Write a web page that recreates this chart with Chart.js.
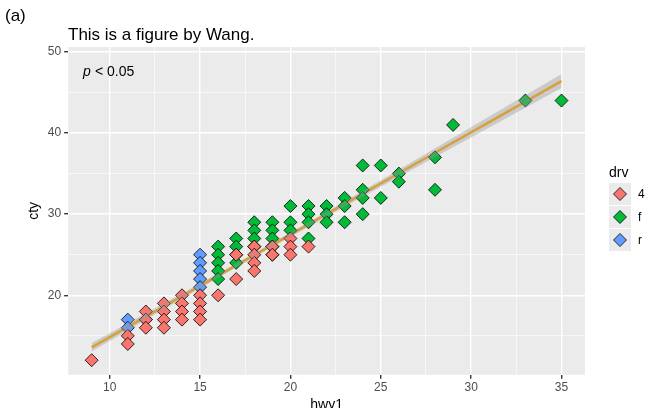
<!DOCTYPE html>
<html><head><meta charset="utf-8">
<script src="https://cdn.jsdelivr.net/npm/chart.js@4"></script>
<style>body{margin:0;background:#fff}#wrap{position:relative;width:661px;height:408px}</style>
</head><body><div id="wrap"><canvas id="c" width="661" height="408"></canvas></div>
<script>
// x = city mpg (labelled hwy1), y = highway (labelled cty)
const drv4 = [[9,12],[11,15],[11,14],[12,18],[12,17],[12,16],[13,19],[13,18],[13,17],[13,16],
  [14,20],[14,19],[14,18],[14,17],[15,20],[15,19],[15,18],[15,17],[16,20],[17,25],[17,22],
  [18,26],[18,25],[18,24],[18,23],[19,26],[19,25],[20,27],[20,26],[20,25],[21,26]];
const drvF = [[16,26],[16,25],[16,24],[16,23],[16,22],[17,27],[17,26],[17,25],[17,24],
  [18,29],[18,28],[18,27],[18,26],[19,29],[19,28],[19,27],[19,26],[19,25],[20,31],[20,29],[20,28],
  [21,31],[21,30],[21,29],[21,27],[22,31],[22,30],[22,29],[23,32],[23,31],[23,29],
  [24,36],[24,33],[24,32],[24,30],[25,36],[25,32],[26,35],[26,34],[28,37],[28,33],[29,41],[33,44],[35,44]];
const drvR = [[11,17],[11,16],[12,17],[15,25],[15,24],[15,23],[15,22],[15,21]];
const xTicks = [10,15,20,25,30,35];
const yTicks = [20,30,40,50];

const all = drv4.concat(drvF, drvR);
const n = all.length;
const mx = all.reduce((s,p)=>s+p[0],0)/n, my = all.reduce((s,p)=>s+p[1],0)/n;
let sxx=0, sxy=0; all.forEach(p=>{sxx+=(p[0]-mx)**2; sxy+=(p[0]-mx)*(p[1]-my);});
const b = sxy/sxx, a = my-b*mx;
let sse=0; all.forEach(p=>{sse+=(p[1]-a-b*p[0])**2;});
const s = Math.sqrt(sse/(n-2));
const xs = [9,11,13,15,17,19,21,23,25,27,29,31,33,35];
const fit = xs.map(x=>({x, y:a+b*x}));
// full dataset has ~234 rows (many overlapping), so the band is narrower than this sample suggests
const nFull = 234;
const se = x=>1.97*s*Math.sqrt(1/nFull+(x-mx)**2/(sxx*nFull/n));
const lo = xs.map(x=>({x, y:a+b*x-se(x)}));
const hi = xs.map(x=>({x, y:a+b*x+se(x)}));

const pts = arr => arr.map(p=>({x:p[0], y:p[1]}));
const cols = {r4:'#F8766D', f:'#00BA38', r:'#619CFF'};
const dia = (d,c)=>({type:'scatter', data:pts(d), pointStyle:'rectRot', pointRadius:6.5,
  backgroundColor:c, borderColor:'#000', borderWidth:0.8});

const deco = {
  id:'deco',
  beforeDraw(ch){
    const {ctx, chartArea:ca} = ch;
    ctx.save(); ctx.fillStyle='#EBEBEB';
    ctx.fillRect(ca.left, ca.top, ca.right-ca.left, ca.bottom-ca.top);
    ctx.restore();
  },
  afterDraw(ch){
    const ctx = ch.ctx; ctx.save();
    ctx.fillStyle='#000'; ctx.font='17px Arial'; ctx.textBaseline='alphabetic';
    ctx.fillText('(a)', 5, 21);
    ctx.fillText('This is a figure by Wang.', 68, 40);
    ctx.font='italic 14px Arial'; ctx.fillText('p', 83, 76);
    ctx.font='14px Arial'; ctx.fillText(' < 0.05', 91, 76);
    ctx.font='14px Arial'; ctx.fillText('drv', 609, 177);
    const items=[['4',cols.r4],['f',cols.f],['r',cols.r]];
    items.forEach((it,i)=>{
      const y=194+i*23;
      ctx.fillStyle='#EBEBEB'; ctx.fillRect(609,y-11,22,22);
      ctx.beginPath(); ctx.moveTo(620,y-6.5); ctx.lineTo(626.5,y); ctx.lineTo(620,y+6.5); ctx.lineTo(613.5,y); ctx.closePath();
      ctx.fillStyle=it[1]; ctx.fill(); ctx.strokeStyle='#000'; ctx.lineWidth=0.8; ctx.stroke();
      ctx.fillStyle='#000'; ctx.font='12px Arial'; ctx.fillText(it[0], 638, y+4);
    });
    ctx.restore();
  }
};

new Chart(document.getElementById('c'), {
  data:{datasets:[
    {type:'line', data:lo, borderWidth:0, pointRadius:0, fill:false},
    {type:'line', data:hi, borderWidth:0, pointRadius:0, fill:'-1', backgroundColor:'rgba(153,153,153,0.4)'},
    dia(drv4, cols.r4), dia(drvF, cols.f), dia(drvR, cols.r),
    {type:'line', data:fit, borderColor:'#FFA500', borderWidth:2.5, pointRadius:0, fill:false}
  ]},
  plugins:[deco],
  options:{
    responsive:false, animation:false,
    layout:{padding:{left:22, right:76, top:47, bottom:-6}},
    plugins:{legend:{display:false}, tooltip:{enabled:false}},
    scales:{
      x:{type:'linear', min:7.7, max:36.3,
        afterBuildTicks:ax=>{ax.ticks=[7.5,10,12.5,15,17.5,20,22.5,25,27.5,30,32.5,35].map(v=>({value:v}));},
        ticks:{color:'#4D4D4D', font:{size:12, family:'Arial'}, autoSkip:false, maxRotation:0, padding:2,
          callback:v=>xTicks.includes(v)?v:''},
        grid:{color:'#fff', lineWidth:c=>xTicks.includes(c.tick.value)?1.4:0.6, tickLength:4, tickColor:c=>xTicks.includes(c.tick.value)?'#333':'rgba(0,0,0,0)'},
        border:{display:false},
        title:{display:true, text:'hwy1', font:{size:14, family:'Arial'}, color:'#000', padding:{top:0, bottom:0}}},
      y:{type:'linear', min:10.2, max:50.6,
        afterBuildTicks:ax=>{ax.ticks=[15,20,25,30,35,40,45,50].map(v=>({value:v}));},
        ticks:{color:'#4D4D4D', font:{size:12, family:'Arial'}, autoSkip:false,
          callback:v=>yTicks.includes(v)?v:''},
        grid:{color:'#fff', lineWidth:c=>yTicks.includes(c.tick.value)?1.4:0.6, tickLength:4, tickColor:c=>yTicks.includes(c.tick.value)?'#333':'rgba(0,0,0,0)'},
        border:{display:false},
        title:{display:true, text:'cty', font:{size:14, family:'Arial'}, color:'#000', padding:{bottom:2}}}
    }
  }
});
</script></body></html>
